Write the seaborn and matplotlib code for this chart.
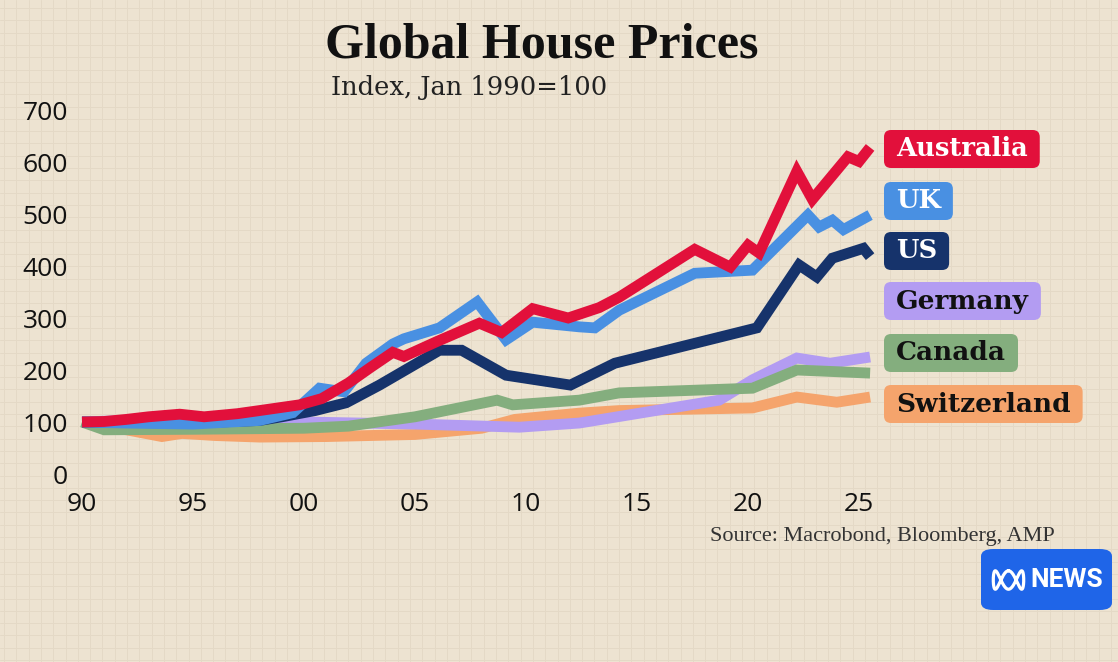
"""
Global house prices, index Jan 1990 = 100
"""
import numpy as np
import pandas as pd
import seaborn as sns
import matplotlib
matplotlib.use('Agg')
import matplotlib.pyplot as plt
from matplotlib.patches import FancyBboxPatch
from matplotlib.transforms import IdentityTransform

# ==================== data ====================
years_au = [1990, 1991, 1992, 1993, 1994.4, 1995.5, 1997, 1998, 1999.8, 2000.8, 2002, 2003,
            2004.0, 2004.5, 2006, 2007.9, 2008.9, 2010.3, 2011.9, 2013.3, 2014.2, 2017.6,
            2019.2, 2020, 2020.5, 2022.2, 2022.9, 2024.5, 2025, 2025.5]
vals_au = [100, 101, 105, 110, 115, 110, 116, 122, 133, 145, 175, 205,
           234, 226, 255, 290, 272, 318, 300, 320, 340, 432,
           398, 440, 425, 582, 528, 610, 601, 628]

years_uk = [1990, 1992, 1995, 1998, 1999.5, 2000.7, 2001.8, 2002.8, 2004.0, 2004.5, 2006.1,
            2007.8, 2009.1, 2010.3, 2012.4, 2013.1, 2014.2, 2017.6, 2020.2, 2022.7, 2023.2,
            2023.8, 2024.3, 2025.5]
vals_uk = [100, 98, 96, 103, 118, 165, 158, 213, 250, 260, 281,
           331, 258, 292, 283, 281, 315, 386, 392, 498, 475,
           488, 470, 498]

years_us = [1990, 1995, 1998, 1999, 2000.5, 2001.9, 2003.4, 2006.1, 2007.1, 2009.1, 2012,
            2014, 2020.4, 2022.3, 2023.1, 2023.8, 2025.2, 2025.5]
vals_us = [100, 98, 103, 110, 122, 137, 171, 238, 238, 190, 171,
           213, 281, 402, 379, 415, 434, 418]

years_de = [1990, 1992, 1995, 2000, 2005, 2009.7, 2012.4, 2018.7, 2020.2, 2022.2, 2023.7, 2025.5]
vals_de = [100, 103, 101, 100, 96, 90, 98, 142, 181, 223, 213, 225]

years_ca = [1990, 1991, 1995, 2000, 2002, 2005, 2008.7, 2009.4, 2012.4, 2014.2, 2020.2, 2022.2, 2025.5]
vals_ca = [100, 85, 86, 88, 92, 110, 142, 133, 142, 156, 165, 200, 194]

years_ch = [1990, 1991, 1992, 1993.6, 1994.5, 1996, 1998, 2001, 2005, 2008, 2009.5, 2012.4,
            2014.2, 2020.2, 2022.2, 2024, 2025.5]
vals_ch = [100, 96, 85, 72, 78, 74, 71, 72, 76, 88, 105, 117,
           122, 127, 148, 138, 148]

countries = ['Australia', 'UK', 'US', 'Germany', 'Canada', 'Switzerland']
colors = ['#E2103B', '#4990E2', '#16336B', '#B39CF2', '#84AE7E', '#F5A46C']
text_colors = ['white', 'white', 'white', '#111111', '#111111', '#111111']
draw_order = ['Switzerland', 'Germany', 'Canada', 'US', 'UK', 'Australia']

x_ticks = [1990, 1995, 2000, 2005, 2010, 2015, 2020, 2025]
x_ticklabels = ['90', '95', '00', '05', '10', '15', '20', '25']
y_ticks = [0, 100, 200, 300, 400, 500, 600, 700]

# ==================== style ====================
BG = '#EDE3D1'
GRID = '#E4D9C6'
W, H = 1118, 662

sns.set_theme(style='white')
plt.rcParams['font.family'] = ['Open Sans', 'DejaVu Sans']

series = [(years_au, vals_au), (years_uk, vals_uk), (years_us, vals_us),
          (years_de, vals_de), (years_ca, vals_ca), (years_ch, vals_ch)]
df = pd.concat([pd.DataFrame({'year': y, 'index': v, 'country': c})
                for c, (y, v) in zip(countries, series)], ignore_index=True)
palette = dict(zip(countries, colors))

fig = plt.figure(figsize=(W / 100, H / 100), dpi=100, facecolor=BG)

# graph-paper background
bg = fig.add_axes([0, 0, 1, 1], zorder=0)
bg.set_facecolor(BG)
bg.set_xlim(0, W)
bg.set_ylim(0, H)
bg.set_xticks(np.arange(4, W, 12.3))
bg.set_yticks(np.arange(2, H, 12.3))
bg.grid(True, color=GRID, linewidth=0.7)
bg.tick_params(length=0, labelbottom=False, labelleft=False)
for s in bg.spines.values():
    s.set_visible(False)

# main chart
ax = fig.add_axes([70.9 / W, 1 - 474 / H, 810.3 / W, 364 / H], zorder=1)
ax.patch.set_alpha(0)
sns.lineplot(data=df, x='year', y='index', hue='country', hue_order=draw_order,
             palette=palette, estimator=None, sort=False, linewidth=7.8,
             legend=False, ax=ax, solid_joinstyle='miter', solid_capstyle='butt')
ax.set_xlim(1989.5, 2026)
ax.set_ylim(0, 700)
ax.set_xticks(x_ticks)
ax.set_xticklabels(x_ticklabels)
ax.set_yticks(y_ticks)
ax.set_xlabel('')
ax.set_ylabel('')
ax.tick_params(axis='x', length=0, labelsize=19, pad=13, colors='#111111')
ax.tick_params(axis='y', length=0, labelsize=19, pad=2, colors='#111111')
ax.grid(False)
sns.despine(ax=ax, left=True, bottom=True)

# titles
fig.text(325 / W, 1 - 46 / H, 'Global House Prices', family='Liberation Serif',
         weight='bold', size=36, va='center', ha='left', color='#111111')
fig.text(331 / W, 1 - 87 / H, 'Index, Jan 1990=100', family='DejaVu Serif',
         size=18.5, va='center', ha='left', color='#222222')

# country labels on rounded boxes
label_y = [149, 201, 251, 301, 353, 404]
labels = []
for name, tcol, ypx in zip(countries, text_colors, label_y):
    labels.append(fig.text(896 / W, 1 - ypx / H, name, family='DejaVu Serif',
                           weight='bold', size=18.5 if tcol == 'white' else 19,
                           color=tcol, va='center', ha='left', zorder=6))
fig.canvas.draw()
renderer = fig.canvas.get_renderer()
for txt, col, ypx in zip(labels, colors, label_y):
    bb = txt.get_window_extent(renderer)
    fig.add_artist(FancyBboxPatch((bb.x0 - 12, H - ypx - 19), bb.width + 24, 38,
                                  boxstyle='round,pad=0,rounding_size=7',
                                  transform=IdentityTransform(), fc=col, ec='none', zorder=5))

# source
fig.text(1055 / W, 1 - 536 / H, 'Source: Macrobond, Bloomberg, AMP', family='Liberation Serif',
         size=16, color='#333333', va='center', ha='right')

# ABC NEWS badge
fig.add_artist(FancyBboxPatch((981 / W, 1 - 610 / H), 131 / W, 61 / H,
                              boxstyle='round,pad=0,rounding_size=0.011',
                              transform=fig.transFigure, fc='#1F65E8', ec='none', zorder=4))
logo = fig.add_axes([991 / W, 1 - 592 / H, 35 / W, 24 / H], zorder=6)
t = np.linspace(0, 2 * np.pi, 400)
logo.plot(np.sin(t), np.cos(3 * t), color='white', linewidth=2.3)
logo.set_xlim(-1.15, 1.15)
logo.set_ylim(-1.3, 1.3)
logo.axis('off')
fig.text(1030 / W, 1 - 580 / H, 'NEWS', family='Roboto', weight='bold', size=19,
         color='white', va='center', ha='left', zorder=7)

fig.savefig('out.png', dpi=100, facecolor=BG)
